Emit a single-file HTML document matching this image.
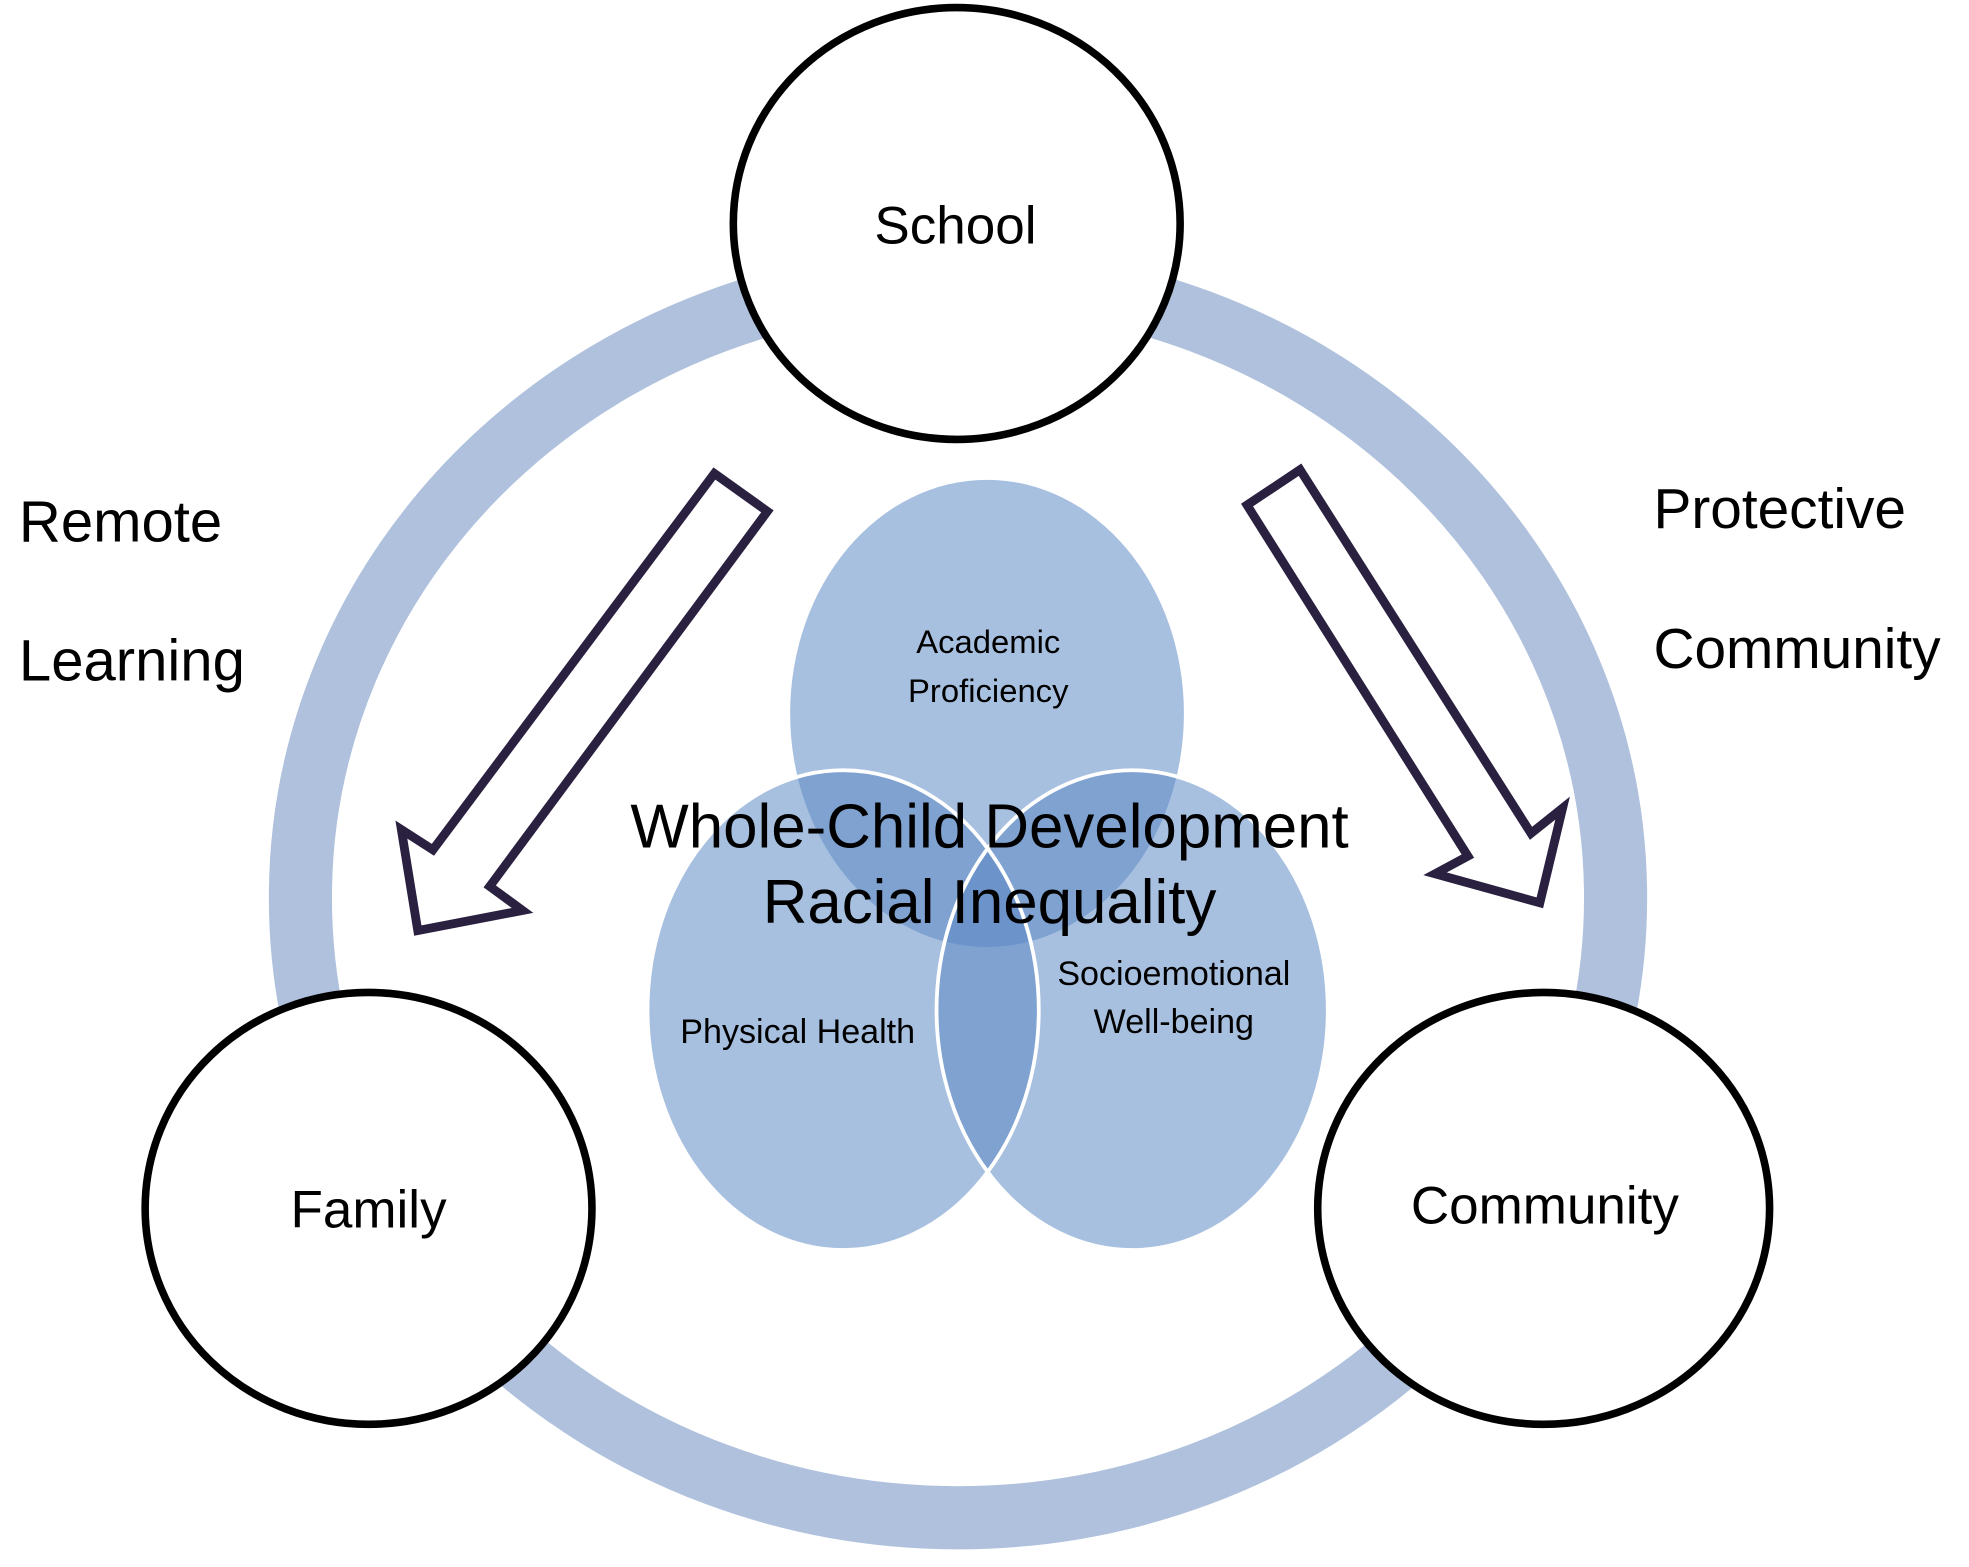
<!DOCTYPE html>
<html><head><meta charset="utf-8"><style>html,body{margin:0;padding:0;background:#fff}svg{display:block}</style></head>
<body>
<svg width="1969" height="1567" viewBox="0 0 1560 1241" preserveAspectRatio="none" xmlns="http://www.w3.org/2000/svg" font-family="Liberation Sans, Arial, sans-serif">
<rect width="1560" height="1241" fill="#fff"/>
<ellipse cx="759" cy="711" rx="521" ry="491" fill="none" stroke="#afc1dd" stroke-width="50"/>
<g fill="rgb(91,136,196)" fill-opacity="0.53">
<ellipse cx="782" cy="565" rx="156" ry="185"/>
<ellipse cx="668" cy="800" rx="155" ry="190"/>
<ellipse cx="897" cy="800" rx="155" ry="190"/>
</g>
<g fill="none" stroke="#fff" stroke-width="3">
<ellipse cx="668" cy="800" rx="155" ry="190"/>
<ellipse cx="897" cy="800" rx="155" ry="190"/>
</g>
<g fill="#fff" stroke="#000" stroke-width="6">
<ellipse cx="758" cy="177" rx="177" ry="171"/>
<ellipse cx="292" cy="957" rx="177" ry="171"/>
<ellipse cx="1223" cy="957" rx="179" ry="171"/>
</g>
<g fill="#fff" stroke="#2a2040" stroke-width="7" stroke-linejoin="miter">
<polygon points="566,375 608,405 388,702 414,721 331,737 318,657 343,673"/>
<polygon points="1030,372 988,400 1163,678 1137,692 1220,715 1238,640 1213,660"/>
</g>
<g fill="#000">
<text x="757" y="193" font-size="42" text-anchor="middle">School</text>
<text x="292" y="972" font-size="42" text-anchor="middle">Family</text>
<text x="1224" y="969" font-size="42" text-anchor="middle">Community</text>
<text x="15" y="429" font-size="46">Remote</text>
<text x="15" y="539" font-size="46">Learning</text>
<text x="1310" y="418" font-size="45">Protective</text>
<text x="1310" y="529" font-size="45">Community</text>
<text x="784" y="671" font-size="49" text-anchor="middle">Whole-Child Development</text>
<text x="784" y="731" font-size="49" text-anchor="middle">Racial Inequality</text>
<text x="783" y="517" font-size="26" text-anchor="middle">Academic</text>
<text x="783" y="556" font-size="26" text-anchor="middle">Proficiency</text>
<text x="632" y="826" font-size="27" text-anchor="middle">Physical Health</text>
<text x="930" y="780" font-size="27" text-anchor="middle">Socioemotional</text>
<text x="930" y="818" font-size="27" text-anchor="middle">Well-being</text>
</g>
</svg>
</body></html>
